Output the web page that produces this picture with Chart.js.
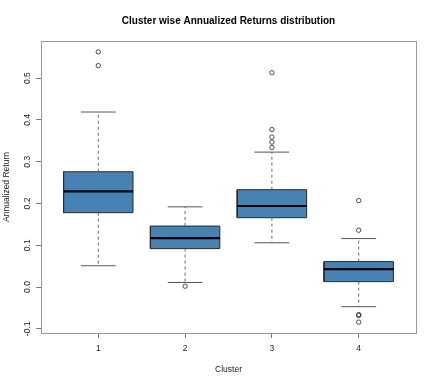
<!DOCTYPE html>
<html>
<head>
<meta charset="utf-8">
<script src="https://cdn.jsdelivr.net/npm/chart.js@4"></script>
<style>
  html, body { margin: 0; padding: 0; background: #fff; }
  #wrap { width: 438px; height: 386px; }
</style>
</head>
<body>
<div id="wrap"><canvas id="myChart" width="438" height="386"></canvas></div>
<script>
// values
const clusters = ["1", "2", "3", "4"];
const lowWhisker = [0.051, 0.011, 0.106, -0.047];
const q1 = [0.178, 0.092, 0.166, 0.013];
const median = [0.229, 0.117, 0.194, 0.043];
const q3 = [0.276, 0.146, 0.233, 0.061];
const highWhisker = [0.419, 0.192, 0.323, 0.116];
const outliers = [
  [0.563, 0.530],
  [0.002],
  [0.513, 0.377, 0.359, 0.347, 0.334],
  [0.207, 0.136, -0.066, -0.068, -0.084],
];
const yTicks = [-0.1, 0.0, 0.1, 0.2, 0.3, 0.4, 0.5];

const half = 0.4;   // half box width in cluster units
const cap = 0.2;    // half whisker cap width

let datasets = [];

// boxes (order: higher numbers are drawn first)
clusters.forEach((c, i) => {
  let x = i + 1;
  datasets.push({
    data: [
      { x: x - half, y: q1[i] }, { x: x + half, y: q1[i] },
      { x: x + half, y: q3[i] }, { x: x - half, y: q3[i] },
      { x: x - half, y: q1[i] },
    ],
    order: 5,
    showLine: true,
    fill: "shape",
    backgroundColor: "#4682B4",
    borderColor: "#2a2a2a",
    borderWidth: 1,
    pointRadius: 0,
    tension: 0,
  });
});

// dashed whiskers
let dashed = [];
clusters.forEach((c, i) => {
  let x = i + 1;
  dashed.push({ x: x, y: q3[i] }, { x: x, y: highWhisker[i] }, { x: x, y: null });
  dashed.push({ x: x, y: q1[i] }, { x: x, y: lowWhisker[i] }, { x: x, y: null });
});
datasets.push({
  data: dashed,
  order: 4,
  showLine: true,
  spanGaps: false,
  borderColor: "#666",
  borderWidth: 1,
  borderDash: [3, 3],
  pointRadius: 0,
});

// whisker caps
let caps = [];
clusters.forEach((c, i) => {
  let x = i + 1;
  caps.push({ x: x - cap, y: highWhisker[i] }, { x: x + cap, y: highWhisker[i] }, { x: x, y: null });
  caps.push({ x: x - cap, y: lowWhisker[i] }, { x: x + cap, y: lowWhisker[i] }, { x: x, y: null });
});
datasets.push({
  data: caps,
  order: 3,
  showLine: true,
  spanGaps: false,
  borderColor: "#555",
  borderWidth: 1,
  pointRadius: 0,
});

// medians
let meds = [];
clusters.forEach((c, i) => {
  let x = i + 1;
  meds.push({ x: x - half, y: median[i] }, { x: x + half, y: median[i] }, { x: x, y: null });
});
datasets.push({
  data: meds,
  order: 1,
  showLine: true,
  spanGaps: false,
  borderColor: "#000",
  borderWidth: 2.2,
  pointRadius: 0,
});

// outliers
let outPts = [];
outliers.forEach((list, i) => {
  list.forEach(v => outPts.push({ x: i + 1, y: v }));
});
datasets.push({
  data: outPts,
  order: 0,
  showLine: false,
  pointStyle: "circle",
  pointRadius: 2.2,
  pointBorderWidth: 0.8,
  pointBorderColor: "#222",
  pointBackgroundColor: "rgba(0,0,0,0)",
});

const textPlugin = {
  id: "rText",
  beforeDatasetsDraw(chart) {
    let a = chart.chartArea;
    let ctx = chart.ctx;
    ctx.save();
    ctx.strokeStyle = "#999";
    ctx.lineWidth = 1;
    ctx.strokeRect(Math.round(a.left) + 0.5, Math.round(a.top) + 0.5,
      Math.round(a.right - a.left), Math.round(a.bottom - a.top));
    ctx.restore();
  },
  afterDraw(chart) {
    let a = chart.chartArea;
    let ctx = chart.ctx;
    let ys = chart.scales.y;
    ctx.save();
    ctx.fillStyle = "#000";
    ctx.textAlign = "center";
    ctx.textBaseline = "middle";
    ctx.font = "bold 10px 'Liberation Sans', Arial, sans-serif";
    ctx.fillText("Cluster wise Annualized Returns distribution", (a.left + a.right) / 2, 21);

    ctx.font = "8.5px 'Liberation Sans', Arial, sans-serif";
    ctx.fillStyle = "#222";
    ctx.fillText("Cluster", (a.left + a.right) / 2, 370);

    ctx.save();
    ctx.translate(7, (a.top + a.bottom) / 2);
    ctx.rotate(-Math.PI / 2);
    ctx.fillText("Annualized Return", 0, 0);
    ctx.restore();

    yTicks.forEach(v => {
      ctx.save();
      ctx.translate(28, ys.getPixelForValue(v));
      ctx.rotate(-Math.PI / 2);
      ctx.fillText(v.toFixed(1), 0, 0);
      ctx.restore();
    });
    ctx.restore();
  },
};

let myChart = document.getElementById("myChart").getContext("2d");

let boxChart = new Chart(myChart, {
  type: "scatter",
  data: { datasets: datasets },
  options: {
    responsive: false,
    animation: false,
    layout: { padding: { top: 41, right: 22, left: 0, bottom: 0 } },
    plugins: {
      legend: { display: false },
      title: { display: false },
      tooltip: { enabled: false },
    },
    scales: {
      x: {
        type: "linear",
        min: 0.34,
        max: 4.66,
        afterBuildTicks: s => { s.ticks = clusters.map((c, i) => ({ value: i + 1 })); },
        afterFit: s => { s.height = 53; },
        ticks: {
          callback: v => clusters[v - 1],
          color: "#222",
          font: { family: "'Liberation Sans', Arial, sans-serif", size: 8.5 },
          padding: 6,
          maxRotation: 0,
        },
        grid: { drawOnChartArea: false, drawTicks: true, tickLength: 5, color: "#777" },
        border: { display: false },
      },
      y: {
        type: "linear",
        min: -0.11,
        max: 0.589,
        afterBuildTicks: s => { s.ticks = yTicks.map(v => ({ value: v })); },
        afterFit: s => { s.width = 41; },
        ticks: { display: false },
        grid: { drawOnChartArea: false, drawTicks: true, tickLength: 5, color: "#777" },
        border: { display: false },
      },
    },
  },
  plugins: [textPlugin],
});
</script>
</body>
</html>
